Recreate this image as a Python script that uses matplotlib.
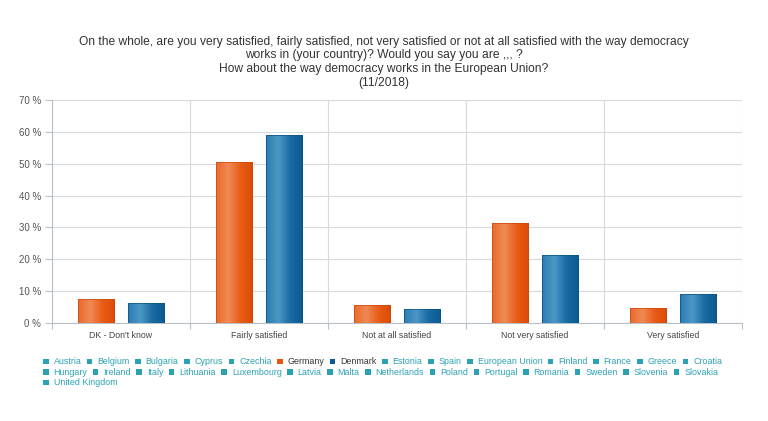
import matplotlib
matplotlib.use("Agg")
import matplotlib.pyplot as plt
import numpy as np
from matplotlib.colors import LinearSegmentedColormap

plt.rcParams['font.family'] = ['Liberation Sans', 'DejaVu Sans']

categories = ["DK - Don't know", "Fairly satisfied", "Not at all satisfied",
              "Not very satisfied", "Very satisfied"]
germany = [7.4, 50.4, 5.6, 31.5, 4.6]
denmark = [6.2, 59.0, 4.3, 21.3, 9.0]
yticks = [0, 10, 20, 30, 40, 50, 60, 70]
ytick_labels = ["0 %", "10 %", "20 %", "30 %", "40 %", "50 %", "60 %", "70 %"]
legend_names = ["Austria", "Belgium", "Bulgaria", "Cyprus", "Czechia", "Germany",
                "Denmark", "Estonia", "Spain", "European Union", "Finland", "France",
                "Greece", "Croatia", "Hungary", "Ireland", "Italy", "Lithuania",
                "Luxembourg", "Latvia", "Malta", "Netherlands", "Poland", "Portugal",
                "Romania", "Sweden", "Slovenia", "Slovakia", "United Kingdom"]
title = ("On the whole, are you very satisfied, fairly satisfied, not very satisfied or not at all satisfied with the way democracy\n"
         "works in (your country)? Would you say you are ,,, ?\n"
         "How about the way democracy works in the European Union?\n"
         "(11/2018)")

W, H = 768, 421
fig = plt.figure(figsize=(W / 100, H / 100), dpi=100)
ax = fig.add_axes([52 / W, 1 - 323 / H, 690 / W, 223 / H])

x = np.arange(len(categories))
bw = 0.265
off = 0.18
b1 = ax.bar(x - off, germany, bw, color='#e8560f', edgecolor='#c94a0c', linewidth=0.5, zorder=3)
b2 = ax.bar(x + off, denmark, bw, color='#0f619c', edgecolor='#0b507f', linewidth=0.5, zorder=3)

cm_or = LinearSegmentedColormap.from_list('or', ['#e96a2c', '#f08a55', '#e85d17', '#dc4b05'])
cm_bl = LinearSegmentedColormap.from_list('bl', ['#2d7db3', '#4b97c6', '#1a6ba3', '#0b5a92'])
grad = np.linspace(0, 1, 64).reshape(1, -1)
for bars, cm in ((b1, cm_or), (b2, cm_bl)):
    for r in bars:
        x0, y0 = r.get_x(), r.get_y()
        im = ax.imshow(grad, cmap=cm, aspect='auto', zorder=3.5,
                       extent=[x0, x0 + r.get_width(), y0, y0 + r.get_height()])
        im.set_clip_path(r)
        r.set_facecolor('none')
        r.set_zorder(4)

ax.set_xlim(-0.5, len(categories) - 0.5)
ax.set_ylim(0, 70)
ax.set_yticks(yticks)
ax.set_yticklabels(ytick_labels, fontsize=7, color='#555555')
ax.set_xticks(np.arange(len(categories) + 1) - 0.5)
ax.set_xticklabels([])
ax.set_xticks(x, minor=True)
ax.set_xticklabels(categories, minor=True, fontsize=6.3, color='#444444')
ax.tick_params(axis='x', which='minor', length=0, pad=6)
ax.tick_params(axis='x', which='major', length=4, color='#b8c0c8')
ax.tick_params(axis='y', length=5, color='#b8c0c8', pad=3)
ax.grid(True, which='major', color='#d5dadf', linewidth=0.8, zorder=0)
for s in ['top', 'right']:
    ax.spines[s].set_visible(False)
for s in ['left', 'bottom']:
    ax.spines[s].set_color('#b8c0c8')
    ax.spines[s].set_linewidth(0.8)

fig.text(384 / W, 1 - 35.5 / H, title, ha='center', va='top',
         fontsize=8.65, color='#333333', linespacing=1.19)

# Flow-layout legend
fig.canvas.draw()
renderer = fig.canvas.get_renderer()
teal = '#2aa2b4'
px, py = 43, 361.5
sq = 5.5
g1, g2 = 5.0, 5.5
for name in legend_names:
    if name == 'Germany':
        sc, tc = '#e8560f', '#333333'
    elif name == 'Denmark':
        sc, tc = '#0a5a9a', '#333333'
    else:
        sc, tc = teal, teal
    t = fig.text(0, 0, name, fontsize=6.4, color=tc, va='center', ha='left')
    tw = t.get_window_extent(renderer).width
    ew = sq + g1 + tw
    if px + ew > 745:
        px = 43
        py += 10.6
    fig.patches.append(plt.Rectangle((px / W, 1 - (py + sq / 2) / H), sq / W, sq / H,
                                     transform=fig.transFigure, facecolor=sc,
                                     edgecolor='none', figure=fig))
    t.set_position(((px + sq + g1) / W, 1 - py / H))
    px += ew + g2

fig.savefig('out.png', dpi=100, facecolor='white')
